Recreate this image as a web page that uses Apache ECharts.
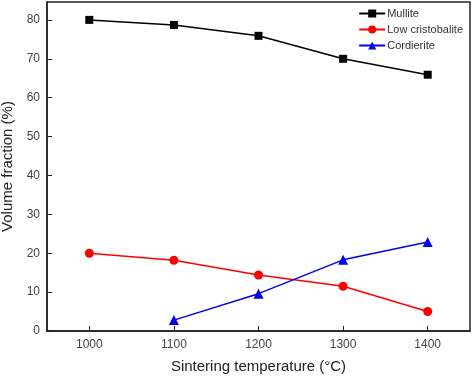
<!DOCTYPE html>
<html><head><meta charset="utf-8">
<script src="https://cdn.jsdelivr.net/npm/echarts@6/dist/echarts.min.js"></script>
<style>html,body{margin:0;padding:0;background:#fff}#c{width:474px;height:380px}</style>
</head><body><div id="c"></div>
<script>
const temps = [1000, 1100, 1200, 1300, 1400];
const mullite = [80, 78.7, 75.9, 70, 65.9];
const cristobalite = [20, 18.2, 14.4, 11.5, 5];
const cordieriteTemps = [1100, 1200, 1300, 1400];
const cordierite = [2.8, 9.6, 18.3, 22.9];
const seriesNames = ['Mullite', 'Low cristobalite', 'Cordierite'];
const xTicks = [1000, 1100, 1200, 1300, 1400];
const yTicks = [0, 10, 20, 30, 40, 50, 60, 70, 80];

const chart = echarts.init(document.getElementById('c'), null, {renderer: 'canvas'});
const font = 'Liberation Sans, Arial, sans-serif';
chart.setOption({
  animation: false,
  grid: {left: 47, right: 4, top: 2, bottom: 49, show: true, borderColor: '#222', borderWidth: 1.5,
         containLabel: false, outerBoundsMode: 'none'},
  legend: {
    right: 6, top: 3, orient: 'vertical', itemGap: 5, itemWidth: 26, itemHeight: 10,
    textStyle: {fontFamily: font, fontSize: 11, color: '#333', padding: [0, 0, 0, -3]},
    data: seriesNames
  },
  xAxis: {
    type: 'value', min: 950, max: 1450, interval: 50,
    name: 'Sintering temperature (°C)', nameLocation: 'middle', nameGap: 28,
    nameTextStyle: {fontFamily: font, fontSize: 15, color: '#222'},
    axisLine: {lineStyle: {color: '#222', width: 1.5}},
    axisTick: {inside: true, length: 5, lineStyle: {color: '#222'}, customValues: xTicks},
    axisLabel: {fontFamily: font, fontSize: 12, color: '#444', margin: 8, customValues: xTicks,
                formatter: v => String(v)},
    splitLine: {show: false}
  },
  yAxis: {
    type: 'value', min: 0, max: 84.6, interval: 10,
    name: 'Volume fraction (%)', nameLocation: 'middle', nameGap: 32,
    nameTextStyle: {fontFamily: font, fontSize: 15, color: '#222'},
    axisLine: {show: true, lineStyle: {color: '#222', width: 1.5}},
    axisTick: {inside: true, length: 5, lineStyle: {color: '#222'}, customValues: yTicks},
    axisLabel: {fontFamily: font, fontSize: 12, color: '#444', margin: 7, customValues: yTicks},
    splitLine: {show: false}
  },
  series: [
    {name: seriesNames[0], type: 'line', symbol: 'rect', symbolSize: 8,
     data: temps.map((t, i) => [t, mullite[i]]),
     lineStyle: {color: '#000', width: 1.5}, itemStyle: {color: '#000'}},
    {name: seriesNames[1], type: 'line', symbol: 'circle', symbolSize: 9,
     data: temps.map((t, i) => [t, cristobalite[i]]),
     lineStyle: {color: '#ff0000', width: 1.5}, itemStyle: {color: '#ff0000'}},
    {name: seriesNames[2], type: 'line', symbol: 'triangle', symbolSize: 10,
     data: cordieriteTemps.map((t, i) => [t, cordierite[i]]),
     lineStyle: {color: '#0000ee', width: 1.5}, itemStyle: {color: '#0000ee'}}
  ]
});
</script></body></html>
